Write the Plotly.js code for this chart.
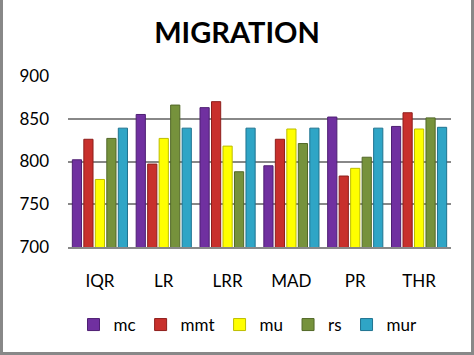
<!DOCTYPE html>
<html>
<head>
<meta charset="utf-8">
<script src="https://cdn.plot.ly/plotly-3.0.1.min.js"></script>
<style>html,body{margin:0;padding:0;background:#fff;}#chart{width:474px;height:355px;}</style>
</head>
<body>
<div id="chart"></div>
<script>
const categories = ["IQR", "LR", "LRR", "MAD", "PR", "THR"];
const seriesNames = ["mc", "mmt", "mu", "rs", "mur"];
const mc  = [802, 855, 863, 795, 852, 841];
const mmt = [826, 797, 870, 826, 783, 857];
const mu  = [779, 827, 818, 838, 792, 838];
const rs  = [827, 866, 788, 821, 805, 851];
const mur = [839, 839, 839, 839, 839, 840];
const colors = ["#7030A0", "#C8302C", "#FFFF00", "#76923C", "#2FA5C6"];
const edges  = ["#4E1F73", "#8E1F1C", "#BDBD00", "#526828", "#1F7390"];

const values = [mc, mmt, mu, rs, mur];
const traces = values.map((v, i) => ({
  type: "bar",
  name: seriesNames[i],
  x: categories,
  y: v,
  marker: { color: colors[i], line: { color: edges[i], width: 1 } }
}));

const PW = 383, PH = 171, L = 68, T = 76;
const px = p => (p - L) / PW;
const py = p => (T + PH - p) / PH;

const layout = {
  width: 474, height: 355,
  margin: { l: L, r: 474 - L - PW, t: T, b: 355 - T - PH },
  paper_bgcolor: "#fff", plot_bgcolor: "#fff",
  font: { family: "Lato, Open Sans, sans-serif", color: "#000", size: 16 },
  title: { text: "<b>MIGRATION</b>", x: 0.5, xanchor: "center", y: 1 - 33 / 355, yanchor: "middle",
           font: { family: "Lato, Open Sans, sans-serif", size: 29, color: "#000" } },
  barmode: "group",
  bargap: 0.1,
  bargroupgap: 0.2,
  xaxis: { showgrid: false, showline: true, linecolor: "#888", linewidth: 2,
           ticks: "", tickfont: { size: 17 }, ticklabelstandoff: 18, fixedrange: true },
  yaxis: { range: [700, 900], dtick: 50, showgrid: true, gridcolor: "#888", gridwidth: 2,
           zeroline: false, showline: false, ticks: "", ticklabelstandoff: 18,
           tickfont: { size: 17 }, fixedrange: true },
  legend: { orientation: "h", x: 0.47, xanchor: "center", y: py(325), yanchor: "middle",
            font: { size: 17 }, itemwidth: 30, traceorder: "normal" },
  showlegend: true,
  shapes: [
    { type: "line", xref: "paper", yref: "paper", x0: px(1.5), x1: px(1.5), y0: py(0), y1: py(355), line: { color: "#888", width: 3 } },
    { type: "line", xref: "paper", yref: "paper", x0: px(472.5), x1: px(472.5), y0: py(0), y1: py(355), line: { color: "#888", width: 3 } },
    { type: "line", xref: "paper", yref: "paper", x0: px(0), x1: px(474), y0: py(353.5), y1: py(353.5), line: { color: "#888", width: 3 } }
  ]
};

Plotly.newPlot("chart", traces, layout, { displayModeBar: false, staticPlot: true });
</script>
</body>
</html>
